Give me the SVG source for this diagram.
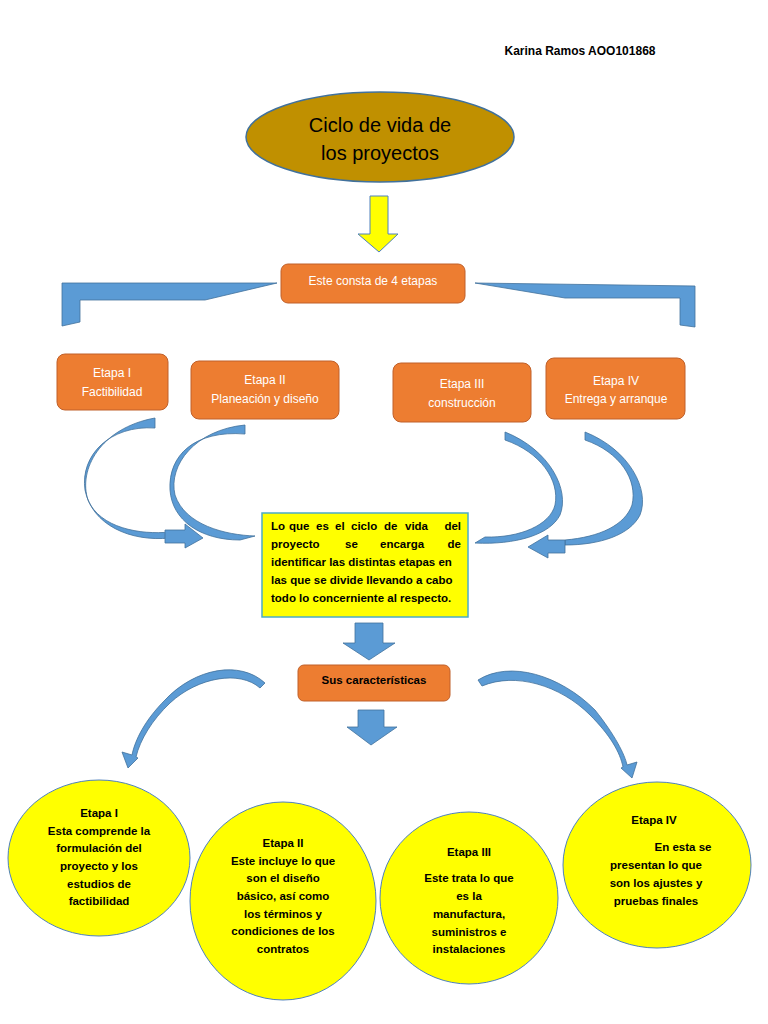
<svg xmlns="http://www.w3.org/2000/svg" width="768" height="1024" viewBox="0 0 768 1024">
<style>
text{font-family:"Liberation Sans",Arial,sans-serif;}
.ob{fill:#ed7d31;stroke:#c0602a;stroke-width:1}
.wt{fill:#fff;font-size:12px;text-anchor:middle}
.bt{fill:#000;font-size:11.5px;font-weight:bold;text-anchor:middle}
.yc{fill:#ffff00;stroke:#4f81bd;stroke-width:1}
.ba{fill:#5b9bd5;stroke:#41719c;stroke-width:0.8}
</style>
<rect width="768" height="1024" fill="#fff"/>
<text x="580" y="55" style="font-size:12px;font-weight:bold;text-anchor:middle">Karina Ramos AOO101868</text>
<g id="title">
<ellipse cx="380" cy="137" rx="134" ry="45" fill="#c09000" stroke="#41719c" stroke-width="1.5"/>
<text x="380" y="132" style="font-size:20px;text-anchor:middle">Ciclo de vida de</text>
<text x="380" y="160" style="font-size:20px;text-anchor:middle">los proyectos</text>
</g>
<g id="connectors">
<polygon points="370,196 388,196 388,234 398,234 379,252 358,234 370,234" fill="#ffff00" stroke="#4f81bd" stroke-width="1"/>
<polygon class="ba" points="277,283 62,283 62,326 80,322 80,300 205,300"/>
<polygon class="ba" points="475,283 695,286 695,327 680,325 680,298 565,298"/>
<path class="ba" d="M155,418 C100,428 78,470 88,500 C100,528 140,535 170,532 L170,538 C130,542 92,525 85,490 C80,455 110,425 155,428 Z"/>
<polygon class="ba" points="165,530 185,530 185,524 203,538 185,548 185,543 165,543"/>
<path class="ba" d="M245,425 C195,430 168,465 175,495 C185,525 225,535 255,536 L240,540 C200,540 172,520 170,490 C168,455 195,430 245,434 Z"/>
<path class="ba" d="M505,432 C550,450 570,490 560,515 C550,535 515,545 475,543 L485,537 C520,538 550,525 555,505 C560,480 540,452 505,440 Z"/>
<path class="ba" d="M585,432 C630,450 650,490 640,515 C630,535 600,545 565,545 L565,540 C600,537 625,525 632,505 C638,480 620,452 585,440 Z"/>
<polygon class="ba" points="565,540 548,540 548,535 528,547 548,558 548,553 565,553"/>
<polygon class="ba" points="355,623 383,623 383,643 395,643 369,660 343,643 355,643"/>
<polygon class="ba" points="358,710 384,710 384,727 397,727 371,745 347,727 358,727"/>
<path class="ba" d="M265,683 C240,660 195,668 165,700 C145,720 135,740 132,755 L122,752 L128,768 L138,758 L136,757 C140,740 152,720 170,703 C198,677 240,670 260,688 Z"/>
<path class="ba" d="M478,680 C510,660 560,675 595,710 C615,735 625,755 627,765 L637,762 L632,778 L621,768 L623,767 C620,752 610,735 590,715 C560,685 515,672 482,686 Z"/>
</g>
<g id="n-consta"><rect class="ob" x="281" y="264" width="184" height="39" rx="7"/><text class="wt" x="373" y="285">Este consta de 4 etapas</text></g>
<g id="n-e1"><rect class="ob" x="57" y="354" width="111" height="56" rx="8"/><text class="wt" x="112" y="377">Etapa I</text><text class="wt" x="112" y="396">Factibilidad</text></g>
<g id="n-e2"><rect class="ob" x="191" y="361" width="148" height="58" rx="8"/><text class="wt" x="265" y="384">Etapa II</text><text class="wt" x="265" y="403">Planeación y diseño</text></g>
<g id="n-e3"><rect class="ob" x="393" y="363" width="138" height="59" rx="8"/><text class="wt" x="462" y="388">Etapa III</text><text class="wt" x="462" y="407">construcción</text></g>
<g id="n-e4"><rect class="ob" x="546" y="358" width="139" height="61" rx="8"/><text class="wt" x="616" y="385">Etapa IV</text><text class="wt" x="616" y="403">Entrega y arranque</text></g>
<g id="n-desc">
<rect x="262" y="513" width="206" height="104" fill="#ffff00" stroke="#4bacc6" stroke-width="1.5"/>
<g style="font-size:11.5px;font-weight:bold">
<text y="530"><tspan x="271">Lo</tspan><tspan x="289">que</tspan><tspan x="316">es</tspan><tspan x="335">el</tspan><tspan x="351">ciclo</tspan><tspan x="384">de</tspan><tspan x="405">vida</tspan></text>
<text x="461" y="530" text-anchor="end">del</text>
<text y="548"><tspan x="271">proyecto</tspan><tspan x="345">se</tspan><tspan x="380">encarga</tspan></text>
<text x="461" y="548" text-anchor="end">de</text>
<text x="271" y="566">identificar las distintas etapas en</text>
<text x="271" y="584">las que se divide llevando a cabo</text>
<text x="271" y="602">todo lo concerniente al respecto.</text>
</g>
</g>
<g id="n-car"><rect class="ob" x="298" y="665" width="152" height="36" rx="6"/><text class="bt" x="374" y="684">Sus características</text></g>
<g id="c1"><ellipse class="yc" cx="99" cy="858" rx="91" ry="78"/>
<text class="bt" x="99" y="817">Etapa I</text><text class="bt" x="99" y="835">Esta comprende la</text><text class="bt" x="99" y="852">formulación del</text><text class="bt" x="99" y="870">proyecto y los</text><text class="bt" x="99" y="888">estudios de</text><text class="bt" x="99" y="905">factibilidad</text></g>
<g id="c2"><ellipse class="yc" cx="283" cy="901" rx="93" ry="99"/>
<text class="bt" x="283" y="847">Etapa II</text><text class="bt" x="283" y="865">Este incluye lo que</text><text class="bt" x="283" y="882">son el diseño</text><text class="bt" x="283" y="900">básico, así como</text><text class="bt" x="283" y="918">los términos y</text><text class="bt" x="283" y="935">condiciones de los</text><text class="bt" x="283" y="953">contratos</text></g>
<g id="c3"><ellipse class="yc" cx="469" cy="898" rx="89" ry="86"/>
<text class="bt" x="469" y="856">Etapa III</text><text class="bt" x="469" y="882">Este trata lo que</text><text class="bt" x="469" y="900">es la</text><text class="bt" x="469" y="918">manufactura,</text><text class="bt" x="469" y="936">suministros e</text><text class="bt" x="469" y="953">instalaciones</text></g>
<g id="c4"><ellipse class="yc" cx="657" cy="865" rx="94" ry="83"/>
<text class="bt" x="654" y="824">Etapa IV</text><text class="bt" x="683" y="851">En esta se</text><text class="bt" x="656" y="869">presentan lo que</text><text class="bt" x="656" y="887">son los ajustes y</text><text class="bt" x="656" y="905">pruebas finales</text></g>
</svg>
